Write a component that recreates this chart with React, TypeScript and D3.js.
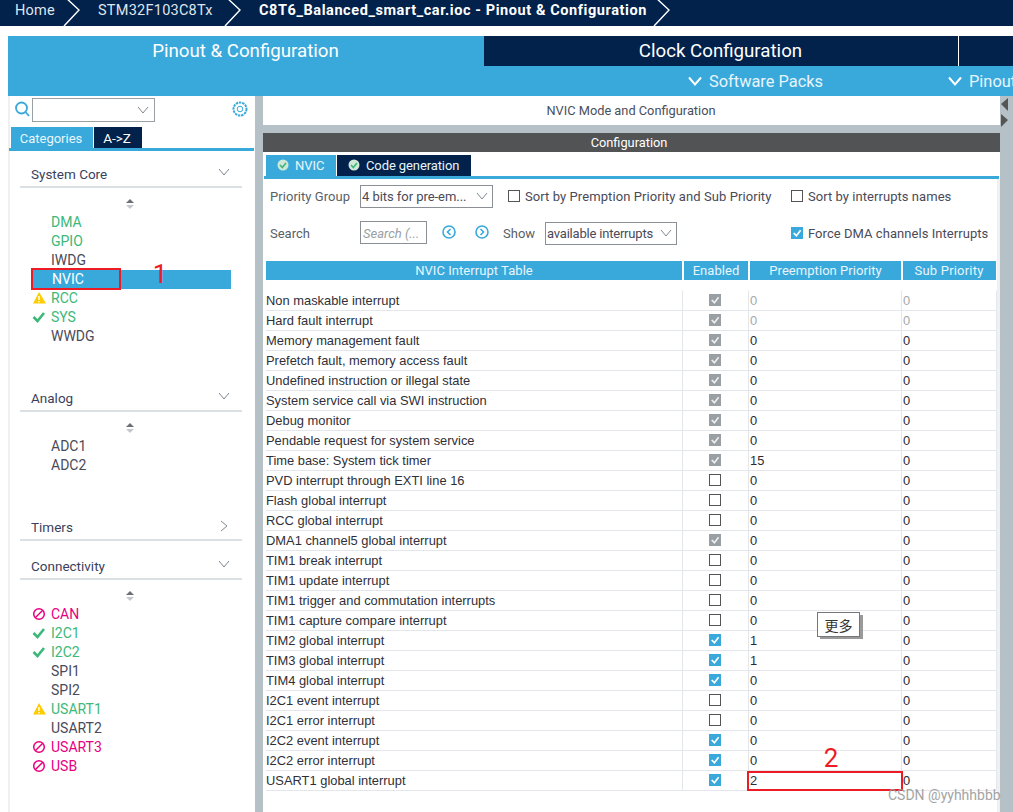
import React from "react";
import * as d3 from "d3";

// --- Data read from the screenshot ---
const CRUMBS = ["Home", "STM32F103C8Tx", "C8T6_Balanced_smart_car.ioc - Pinout & Configuration"];

const INTERRUPTS = [
  "Non maskable interrupt",
  "Hard fault interrupt",
  "Memory management fault",
  "Prefetch fault, memory access fault",
  "Undefined instruction or illegal state",
  "System service call via SWI instruction",
  "Debug monitor",
  "Pendable request for system service",
  "Time base: System tick timer",
  "PVD interrupt through EXTI line 16",
  "Flash global interrupt",
  "RCC global interrupt",
  "DMA1 channel5 global interrupt",
  "TIM1 break interrupt",
  "TIM1 update interrupt",
  "TIM1 trigger and commutation interrupts",
  "TIM1 capture compare interrupt",
  "TIM2 global interrupt",
  "TIM3 global interrupt",
  "TIM4 global interrupt",
  "I2C1 event interrupt",
  "I2C1 error interrupt",
  "I2C2 event interrupt",
  "I2C2 error interrupt",
  "USART1 global interrupt",
];
// 0 = off, 1 = on, 2 = forced on (grey)
const ENABLED = [2, 2, 2, 2, 2, 2, 2, 2, 2, 0, 0, 0, 2, 0, 0, 0, 0, 1, 1, 1, 0, 0, 1, 1, 1];
const PREEMPTION = [0, 0, 0, 0, 0, 0, 0, 0, 15, 0, 0, 0, 0, 0, 0, 0, 0, 1, 1, 0, 0, 0, 0, 0, 2];
const SUB_PRIORITY = new Array(INTERRUPTS.length).fill(0);

const HEADERS = ["NVIC Interrupt Table", "Enabled", "Preemption Priority", "Sub Priority"];

const SYSTEM_CORE = ["DMA", "GPIO", "IWDG", "NVIC", "RCC", "SYS", "WWDG"];
const SYSTEM_STATE = ["ok", "ok", "none", "none", "warn-ok", "check", "none"];
const ANALOG = ["ADC1", "ADC2"];
const ANALOG_STATE = ["none", "none"];
const CONNECTIVITY = ["CAN", "I2C1", "I2C2", "SPI1", "SPI2", "USART1", "USART2", "USART3", "USB"];
const CONNECTIVITY_STATE = ["ban", "check", "check", "none", "none", "warn-ok", "none", "ban", "ban"];

// --- Colours ---
const NAVY = "#02214b";
const BLUE = "#39a9dc";
const GREY = "#b6c1c7";
const LINE = "#e3e6ea";
const TEXT = "#4a4a58";
const GREEN = "#3cb878";
const PINK = "#e6007e";
const FONT = "Roboto, 'Noto Sans', sans-serif";
const TABLE_FONT = "'Liberation Sans', Arial, sans-serif";

const W = 1013;
const H = 812;

// table rows and columns
const rowY = d3.scaleLinear().domain([0, 1]).range([300.5, 320.5]);
const colEdges = [266, 684, 750, 903, 998];

const listY = (start: number) => d3.scaleLinear().domain([0, 1]).range([start, start + 19]);

const Txt = (p: any) => (
  <text fontFamily={FONT} dominantBaseline="central" {...p}>
    {p.children}
  </text>
);

function Check({ x, y, size = 12, fill, stroke = "#fff" }: any) {
  const s = size / 2;
  return (
    <g transform={`translate(${x},${y})`}>
      <rect x={-s} y={-s} width={size} height={size} fill={fill} />
      <path
        d={`M${-s * 0.55},${0} L${-s * 0.1},${s * 0.45} L${s * 0.6},${-s * 0.45}`}
        fill="none"
        stroke={stroke}
        strokeWidth={1.7}
      />
    </g>
  );
}

function Box({ x, y, size = 12 }: any) {
  return (
    <rect x={x - size / 2 + 0.5} y={y - size / 2 + 0.5} width={size - 1} height={size - 1} fill="#fff" stroke="#555" strokeWidth={1} />
  );
}

function Chevron({ x, y, color = "#7f8a93", w = 5, h = 3, sw = 1 }: any) {
  return (
    <path d={`M${x - w},${y - h} L${x},${y + h} L${x + w},${y - h}`} fill="none" stroke={color} strokeWidth={sw} />
  );
}

function StatusIcon({ kind, y }: { kind: string; y: number }) {
  if (kind === "check")
    return <path d={`M33.5,${y} L37.5,${y + 4} L44,${y - 4}`} fill="none" stroke={GREEN} strokeWidth={2.6} />;
  if (kind === "warn-ok")
    return (
      <g>
        <path d={`M39,${y - 6} L46,${y + 5.5} L33,${y + 5.5} Z`} fill="#ffcc00" />
        <rect x={38.3} y={y - 2} width={1.4} height={4} fill="#fff" />
        <rect x={38.3} y={y + 3} width={1.4} height={1.4} fill="#fff" />
      </g>
    );
  if (kind === "ban")
    return (
      <g fill="none" stroke={PINK} strokeWidth={1.5}>
        <circle cx={39} cy={y} r={5.3} />
        <line x1={35.5} y1={y + 3.5} x2={42.5} y2={y - 3.5} />
      </g>
    );
  return null;
}

function itemColor(kind: string, label: string) {
  if (label === "NVIC") return "#fff";
  if (kind === "ban") return PINK;
  if (kind === "none") return TEXT;
  return GREEN;
}

function Spinner({ y }: { y: number }) {
  return (
    <g>
      <path d={`M126,${y - 1} L130,${y - 5} L134,${y - 1} Z`} fill="#6b7076" />
      <path d={`M126,${y + 1} L130,${y + 5} L134,${y + 1} Z`} fill="#c4c8cc" />
    </g>
  );
}

function Section({ title, y, open = true }: { title: string; y: number; open?: boolean }) {
  return (
    <g>
      <Txt x={31} y={y} fontSize={13.5} fill="#3a3f5c">
        {title}
      </Txt>
      {open ? (
        <Chevron x={224} y={y - 2} />
      ) : (
        <path d={`M221,${y - 6} L227,${y - 1} L221,${y + 4}`} fill="none" stroke="#7f8a93" />
      )}
      <line x1={20} x2={242} y1={y + 13} y2={y + 13} stroke={GREY} />
    </g>
  );
}

function ItemList({ items, states, start }: { items: string[]; states: string[]; start: number }) {
  const y = listY(start);
  return (
    <g>
      {items.map((d, i) => (
        <g key={d}>
          <StatusIcon kind={states[i]} y={y(i)} />
          <Txt x={d === "NVIC" ? 52 : 51} y={y(i)} fontSize={14} fill={itemColor(states[i], d)}>
            {d}
          </Txt>
        </g>
      ))}
    </g>
  );
}

export default function App() {
  const rows = INTERRUPTS.map((_, i) => i);
  const crumbX = [15, 98, 259];
  const crumbArrow = [65, 226, 655];

  return (
    <svg width={W} height={H} viewBox={`0 0 ${W} ${H}`} style={{ position: "absolute", left: 0, top: 0 }}>
      <rect width={W} height={H} fill="#fff" />

      {/* breadcrumb */}
      <rect width={W} height={26} fill={NAVY} />
      {CRUMBS.map((c, i) => (
        <Txt
          key={c}
          x={crumbX[i]}
          y={10}
          fontSize={14.5}
          fill={i === 2 ? "#fff" : "#dfe5ec"}
          fontWeight={i === 2 ? 700 : 400}
          letterSpacing={i === 2 ? 0.58 : 0.25}
        >
          {c}
        </Txt>
      ))}
      {crumbArrow.map((x) => (
        <path key={x} d={`M${x},-3 L${x + 14},10 L${x - 1},26`} fill="none" stroke="#fff" strokeWidth={1.4} />
      ))}

      {/* main tabs */}
      <rect x={8} y={36} width={W - 8} height={60} fill={BLUE} />
      <rect x={484} y={36} width={W - 484} height={30} fill={NAVY} />
      <rect x={958} y={36} width={1} height={30} fill="#fff" />
      <Txt x={245.5} y={51} fontSize={18.7} fill="#fff" textAnchor="middle">
        Pinout & Configuration
      </Txt>
      <Txt x={720.5} y={51} fontSize={18.7} fill="#fff" textAnchor="middle">
        Clock Configuration
      </Txt>
      <Chevron x={695} y={81} color="#fff" w={6} h={3.5} sw={2} />
      <Txt x={709} y={81} fontSize={16.4} fill="#e8f5fb">
        Software Packs
      </Txt>
      <Chevron x={955} y={81} color="#fff" w={6} h={3.5} sw={2} />
      <Txt x={969} y={81} fontSize={16.4} fill="#e8f5fb">
        Pinout
      </Txt>

      {/* panel gutters */}
      <rect x={8} y={96} width={2} height={H - 96} fill="#eef0f2" />
      <rect x={255} y={96} width={8} height={H - 96} fill={GREY} />
      <rect x={1000} y={96} width={13} height={H - 96} fill={GREY} />
      <rect x={263} y={125} width={737} height={8} fill={GREY} />
      <rect x={997} y={179} width={3} height={H - 179} fill="#eef0f2" />
      <path d="M1008,98 L1001,104 L1008,111 Z" fill="#555" />
      <path d="M1001,114 L1008,120 L1001,127 Z" fill="#555" />

      {/* left panel header */}
      <g fill="none" stroke={BLUE} strokeWidth={1.8}>
        <circle cx={21.5} cy={108} r={5.5} />
        <line x1={25.5} y1={112} x2={29} y2={116} />
      </g>
      <rect x={32.5} y={98.5} width={122} height={23} fill="#fff" stroke="#9a9fa4" />
      <Chevron x={143} y={110} />
      <circle cx={240} cy={109} r={6.5} fill="none" stroke={BLUE} strokeWidth={2} strokeDasharray="2.4 0.8" />
      <circle cx={240} cy={109} r={2.8} fill="none" stroke={BLUE} />
      <rect x={11} y={127} width={82} height={21} fill={BLUE} />
      <rect x={94} y={127} width={48} height={21} fill={NAVY} />
      <rect x={9} y={148} width={245} height={3} fill={BLUE} />
      <Txt x={51} y={138} fontSize={13} fill="#e8f5fb" textAnchor="middle">
        Categories
      </Txt>
      <Txt x={117} y={138} fontSize={13.5} fill="#fff" textAnchor="middle">
        {"A->Z"}
      </Txt>

      {/* left sections */}
      <Section title="System Core" y={174} />
      <Spinner y={204} />
      <rect x={31} y={270} width={200} height={19} fill={BLUE} />
      <ItemList items={SYSTEM_CORE} states={SYSTEM_STATE} start={222} />

      <Section title="Analog" y={398} />
      <Spinner y={428} />
      <ItemList items={ANALOG} states={ANALOG_STATE} start={446} />

      <Section title="Timers" y={527} open={false} />

      <Section title="Connectivity" y={566} />
      <Spinner y={596} />
      <ItemList items={CONNECTIVITY} states={CONNECTIVITY_STATE} start={614} />

      {/* right panel headers */}
      <Txt x={631} y={110} fontSize={12.8} fill="#4a4f5c" textAnchor="middle">
        NVIC Mode and Configuration
      </Txt>
      <rect x={263} y={133} width={737} height={19} fill="#525354" />
      <Txt x={629} y={142} fontSize={12.8} fill="#fff" textAnchor="middle">
        Configuration
      </Txt>
      <rect x={266} y={155} width={70} height={21} fill={BLUE} />
      <rect x={337} y={155} width={134} height={21} fill={NAVY} />
      <rect x={264} y={176} width={735} height={3} fill={BLUE} />
      {[283, 354].map((x) => (
        <g key={x}>
          <circle cx={x} cy={165} r={5.5} fill="#cfe8d8" />
          <path d={`M${x - 3},165 L${x - 0.7},167.5 L${x + 3},163`} fill="none" stroke={GREEN} strokeWidth={1.6} />
        </g>
      ))}
      <Txt x={295} y={165} fontSize={13} fill="#e8f5fb">
        NVIC
      </Txt>
      <Txt x={366} y={165} fontSize={13} fill="#e8f5fb" letterSpacing={-0.1}>
        Code generation
      </Txt>

      {/* filter controls */}
      <Txt x={270} y={196} fontSize={13} fill="#5a5f66" letterSpacing={0.05}>
        Priority Group
      </Txt>
      <rect x={360.5} y={185.5} width={132} height={22} fill="#fff" stroke="#8a9096" />
      <Txt x={362} y={196} fontSize={13} fill={TEXT} letterSpacing={-0.05}>
        4 bits for pre-em...
      </Txt>
      <Chevron x={482} y={196} />
      <Box x={514} y={196} />
      <Txt x={525} y={196} fontSize={13} fill={TEXT} letterSpacing={0.08}>
        Sort by Premption Priority and Sub Priority
      </Txt>
      <Box x={797} y={196} />
      <Txt x={808} y={196} fontSize={13} fill={TEXT} letterSpacing={0.05}>
        Sort by interrupts names
      </Txt>
      <Txt x={270} y={233} fontSize={13} fill="#5a5f66">
        Search
      </Txt>
      <rect x={360.5} y={221.5} width={66} height={22} fill="#fff" stroke="#8a9096" />
      <Txt x={363} y={233} fontSize={13} fill="#9a9fa4" fontStyle="italic">
        {"Search (..."}
      </Txt>
      {[449, 482].map((x, i) => (
        <g key={x} fill="none" stroke={BLUE} strokeWidth={1.6}>
          <circle cx={x} cy={232} r={6} />
          <path d={i === 0 ? `M${x + 1.5},229 L${x - 1.5},232 L${x + 1.5},235` : `M${x - 1.5},229 L${x + 1.5},232 L${x - 1.5},235`} />
        </g>
      ))}
      <Txt x={503} y={233} fontSize={13} fill="#5a5f66">
        Show
      </Txt>
      <rect x={545.5} y={222.5} width={131} height={22} fill="#fff" stroke="#8a9096" />
      <Txt x={547} y={233} fontSize={13} fill={TEXT} letterSpacing={-0.2}>
        available interrupts
      </Txt>
      <Chevron x={666} y={233} />
      <Check x={797} y={233} fill={BLUE} />
      <Txt x={808} y={233} fontSize={13} fill={TEXT} letterSpacing={0.05}>
        Force DMA channels Interrupts
      </Txt>

      {/* table header */}
      {HEADERS.map((h, i) => (
        <g key={h}>
          <rect x={colEdges[i]} y={261} width={colEdges[i + 1] - colEdges[i] - 2} height={19} fill={BLUE} />
          <Txt
            x={i === 3 ? 949 : (colEdges[i] + colEdges[i + 1] - 2) / 2}
            y={270}
            fontSize={13}
            fill="#e8f5fb"
            textAnchor="middle"
            letterSpacing={i === 3 ? 0.2 : 0.05}
          >
            {h}
          </Txt>
        </g>
      ))}

      {/* table rows */}
      {rows.map((i) => {
        const y = rowY(i);
        const dim = i < 2;
        const val = dim ? "#a5a9ad" : "#2b2b33";
        return (
          <g key={i}>
            <line x1={266} x2={996} y1={y + 10} y2={y + 10} stroke={LINE} />
            <line x1={682.5} x2={682.5} y1={y - 10} y2={y + 10} stroke={LINE} />
            <line x1={748.5} x2={748.5} y1={y - 10} y2={y + 10} stroke={LINE} />
            <line x1={901.5} x2={901.5} y1={y - 10} y2={y + 10} stroke={LINE} />
            <line x1={996.5} x2={996.5} y1={y - 10} y2={y + 10} stroke={LINE} />
            <text x={266} y={y} dominantBaseline="central" fontFamily={TABLE_FONT} fontSize={12.9} fill="#2f2f38">
              {INTERRUPTS[i]}
            </text>
            {ENABLED[i] === 0 && <Box x={715} y={y - 0.5} />}
            {ENABLED[i] === 1 && <Check x={715} y={y - 0.5} fill={BLUE} />}
            {ENABLED[i] === 2 && <Check x={715} y={y - 0.5} fill="#9a9fa4" stroke="#eceef0" />}
            <text x={750} y={y} dominantBaseline="central" fontFamily={TABLE_FONT} fontSize={12.9} fill={val}>
              {PREEMPTION[i]}
            </text>
            <text x={903} y={y} dominantBaseline="central" fontFamily={TABLE_FONT} fontSize={12.9} fill={val}>
              {SUB_PRIORITY[i]}
            </text>
          </g>
        );
      })}

      {/* tooltip */}
      <rect x={820} y={615} width={43} height={24} fill="#9a9a9a" />
      <rect x={817.5} y={612.5} width={42} height={24} fill="#fff" stroke="#777" />
      <text x={838.5} y={624.5} textAnchor="middle" dominantBaseline="central" fontFamily="'Noto Sans CJK SC'" fontSize={14} fill="#333">
        更多
      </text>

      {/* red annotations */}
      <rect x={32} y={269} width={88} height={20} fill="none" stroke="#ed1c24" strokeWidth={2} />
      <Txt x={160} y={274} fontSize={26} fill="#ed1c24" textAnchor="middle">
        1
      </Txt>
      <rect x={748} y={772} width={154} height={18} fill="none" stroke="#ed1c24" strokeWidth={2} />
      <Txt x={831} y={758} fontSize={26} fill="#ed1c24" textAnchor="middle">
        2
      </Txt>

      {/* watermark */}
      <Txt x={888} y={795} fontSize={14} fill="#9a9a9a" opacity={0.9}>
        CSDN @yyhhhbbb
      </Txt>
    </svg>
  );
}
